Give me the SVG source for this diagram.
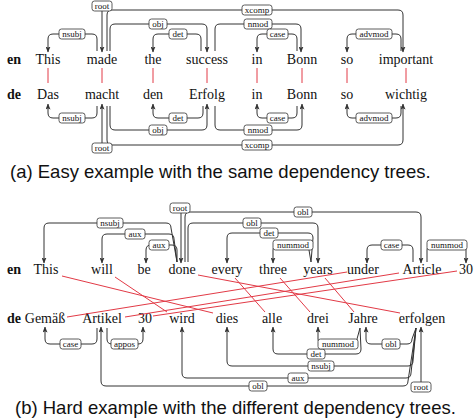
<svg xmlns="http://www.w3.org/2000/svg" width="474" height="420" viewBox="0 0 474 420">
<style>
.w{font-family:"Liberation Serif","DejaVu Serif",serif;font-size:14px;fill:#111;text-anchor:middle}
.lang{font-family:"Liberation Serif","DejaVu Serif",serif;font-size:14px;font-weight:bold;fill:#111;text-anchor:middle}
.cap{font-family:"Liberation Sans",Arial,sans-serif;font-size:18.5px;fill:#111}
.e{fill:none;stroke:#333;stroke-width:1;marker-end:url(#ah)}
.al{stroke:#e23a46;stroke-width:1;fill:none}
.lb rect{fill:#fff;stroke:#333;stroke-width:0.8}
.lb text{font-family:"Liberation Serif","DejaVu Serif",serif;font-size:9px;fill:#111;text-anchor:middle}
</style>
<defs>
<marker id="ah" markerUnits="userSpaceOnUse" markerWidth="6" markerHeight="5" refX="5.5" refY="2.5" orient="auto">
<path d="M0,0 L6,2.5 L0,5 L1.2,2.5 z" fill="#333"/>
</marker>
</defs>
<rect width="474" height="420" fill="#fff"/>

<!-- ===== Part (a) ===== -->
<g id="a-lang"><text class="lang" x="14" y="64">en</text><text class="lang" x="14" y="99">de</text></g>
<g id="a-en-This"><text class="w" x="48" y="64">This</text></g>
<g id="a-en-made"><text class="w" x="102" y="64">made</text></g>
<g id="a-en-the"><text class="w" x="153" y="64">the</text></g>
<g id="a-en-success"><text class="w" x="207" y="64">success</text></g>
<g id="a-en-in"><text class="w" x="257" y="64">in</text></g>
<g id="a-en-Bonn"><text class="w" x="302" y="64">Bonn</text></g>
<g id="a-en-so"><text class="w" x="347" y="64">so</text></g>
<g id="a-en-important"><text class="w" x="406" y="64">important</text></g>
<g id="a-de-Das"><text class="w" x="48" y="99">Das</text></g>
<g id="a-de-macht"><text class="w" x="102" y="99">macht</text></g>
<g id="a-de-den"><text class="w" x="153" y="99">den</text></g>
<g id="a-de-Erfolg"><text class="w" x="207" y="99">Erfolg</text></g>
<g id="a-de-in"><text class="w" x="257" y="99">in</text></g>
<g id="a-de-Bonn"><text class="w" x="302" y="99">Bonn</text></g>
<g id="a-de-so"><text class="w" x="347" y="99">so</text></g>
<g id="a-de-wichtig"><text class="w" x="406" y="99">wichtig</text></g>

<g id="a-connectors">
<g id="a-align">
<path class="al" d="M48,68V83M102,68V83M153,68V83M207,68V83M257,68V83M302,68V83M347,68V83M406,68V83"/>
</g>
<g id="a-top-edges">
<path class="e" d="M102,11V52"/>
<path class="e" d="M107,51V15Q107,10 112,10H398Q403,10 403,15V52"/>
<path class="e" d="M110,51V29Q110,24 115,24H202Q207,24 207,29V52"/>
<path class="e" d="M215,51V29Q215,24 220,24H296Q301,24 301,29V52"/>
<path class="e" d="M201,51V39Q201,34 196,34H158Q153,34 153,39V52"/>
<path class="e" d="M97,51V39Q97,34 92,34H53Q48,34 48,39V52"/>
<path class="e" d="M297,51V39Q297,34 292,34H262Q257,34 257,39V52"/>
<path class="e" d="M401,51V39Q401,34 396,34H352Q347,34 347,39V52"/>
</g>
<g id="a-bottom-edges">
<path class="e" d="M97,106V113Q97,118 92,118H53Q48,118 48,113V104"/>
<path class="e" d="M203,106V113Q203,118 198,118H158Q153,118 153,113V104"/>
<path class="e" d="M110,106V125Q110,130 115,130H202Q207,130 207,125V104"/>
<path class="e" d="M102,143V104"/>
<path class="e" d="M107,106V140Q107,145 112,145H398Q403,145 403,140V104"/>
<path class="e" d="M215,106V125Q215,130 220,130H297Q302,130 302,125V104"/>
<path class="e" d="M297,106V113Q297,118 292,118H262Q257,118 257,113V104"/>
<path class="e" d="M401,106V113Q401,118 396,118H352Q347,118 347,113V104"/>
</g>
<g id="a-labels" class="lb">
<rect x="92" y="1" width="20" height="10" rx="2.5"/><text x="102" y="9">root</text>
<rect x="242" y="5" width="30" height="10" rx="2.5"/><text x="257" y="13">xcomp</text>
<rect x="149" y="19" width="18" height="10" rx="2.5"/><text x="158" y="27">obj</text>
<rect x="244" y="19" width="28" height="10" rx="2.5"/><text x="258" y="27">nmod</text>
<rect x="169" y="29" width="18" height="10" rx="2.5"/><text x="178" y="37">det</text>
<rect x="59" y="29" width="26" height="10" rx="2.5"/><text x="72" y="37">nsubj</text>
<rect x="267" y="29" width="21" height="10" rx="2.5"/><text x="277.5" y="37">case</text>
<rect x="356" y="29" width="36" height="10" rx="2.5"/><text x="374" y="37">advmod</text>

<rect x="59" y="113" width="26" height="10" rx="2.5"/><text x="72" y="121">nsubj</text>
<rect x="169" y="113" width="18" height="10" rx="2.5"/><text x="178" y="121">det</text>
<rect x="149" y="125" width="18" height="10" rx="2.5"/><text x="158" y="133">obj</text>
<rect x="92" y="143" width="20" height="10" rx="2.5"/><text x="102" y="151">root</text>
<rect x="242" y="140" width="30" height="10" rx="2.5"/><text x="257" y="148">xcomp</text>
<rect x="244" y="125" width="28" height="10" rx="2.5"/><text x="258" y="133">nmod</text>
<rect x="267" y="113" width="21" height="10" rx="2.5"/><text x="277.5" y="121">case</text>
<rect x="356" y="113" width="36" height="10" rx="2.5"/><text x="374" y="121">advmod</text>
</g>
</g>

<text class="cap" x="10" y="178">(a) Easy example with the same dependency trees.</text>

<!-- ===== Part (b) ===== -->
<g id="b-lang"><text class="lang" x="14" y="274">en</text><text class="lang" x="14" y="323">de</text></g>
<g id="b-en-This"><text class="w" x="46" y="274">This</text></g>
<g id="b-en-will"><text class="w" x="102" y="274">will</text></g>
<g id="b-en-be"><text class="w" x="144" y="274">be</text></g>
<g id="b-en-done"><text class="w" x="182" y="274">done</text></g>
<g id="b-en-every"><text class="w" x="227" y="274">every</text></g>
<g id="b-en-three"><text class="w" x="273" y="274">three</text></g>
<g id="b-en-years"><text class="w" x="318" y="274">years</text></g>
<g id="b-en-under"><text class="w" x="363" y="274">under</text></g>
<g id="b-en-Article"><text class="w" x="422" y="274">Article</text></g>
<g id="b-en-30"><text class="w" x="466" y="274">30</text></g>
<g id="b-de-Gemass"><text class="w" x="45" y="323">Gemäß</text></g>
<g id="b-de-Artikel"><text class="w" x="102" y="323">Artikel</text></g>
<g id="b-de-30"><text class="w" x="145" y="323">30</text></g>
<g id="b-de-wird"><text class="w" x="182" y="323">wird</text></g>
<g id="b-de-dies"><text class="w" x="227" y="323">dies</text></g>
<g id="b-de-alle"><text class="w" x="272" y="323">alle</text></g>
<g id="b-de-drei"><text class="w" x="318" y="323">drei</text></g>
<g id="b-de-Jahre"><text class="w" x="363" y="323">Jahre</text></g>
<g id="b-de-erfolgen"><text class="w" x="422" y="323">erfolgen</text></g>

<g id="b-connectors">
<g id="b-align">
<path class="al" d="M62,276L213,313"/>
<path class="al" d="M115,277L167,312"/>
<path class="al" d="M198,275L400,313"/>
<path class="al" d="M235,278L265,312"/>
<path class="al" d="M280,278L310,312"/>
<path class="al" d="M325,278L354,312"/>
<path class="al" d="M347,272L67,317"/>
<path class="al" d="M399,273L125,317"/>
<path class="al" d="M457,271L153,316"/>
</g>
<g id="b-top-edges">
<path class="e" d="M177,262L171,228Q171,223 166,223H49Q44,223 44,228V263"/>
<path class="e" d="M177,262L174,239Q174,234 169,234H107Q102,234 102,239V263"/>
<path class="e" d="M177,262V250Q177,245 172,245H151Q146,245 146,250V263"/>
<path class="e" d="M181,213V263"/>
<path class="e" d="M185,262V217Q185,212 190,212H416Q421,212 421,217V263"/>
<path class="e" d="M188,262V228Q188,223 193,223H313Q318,223 318,228V263"/>
<path class="e" d="M311,262L313,238Q313,233 308,233H232Q227,233 227,238V263"/>
<path class="e" d="M311,262L309,250Q309,245 304,245H278Q273,245 273,250V263"/>
<path class="e" d="M413,262V250Q413,245 408,245H372Q367,245 367,250V263"/>
<path class="e" d="M427,262V250Q427,245 432,245H461Q466,245 466,250V263"/>
</g>
<g id="b-bottom-edges">
<path class="e" d="M97,328V339Q97,344 92,344H50Q45,344 45,339V327"/>
<path class="e" d="M107,328V339Q107,344 112,344H138Q143,344 143,339V327"/>
<path class="e" d="M416,328L408,381Q408,386 403,386H106Q101,386 101,381V327"/>
<path class="e" d="M416,328L411,373Q411,378 406,378H187Q182,378 182,373V327"/>
<path class="e" d="M416,328L413,361Q413,366 408,366H232Q227,366 227,361V327"/>
<path class="e" d="M416,328L412,339Q412,344 407,344H371Q366,344 366,339V327"/>
<path class="e" d="M360,328L361,349Q361,354 356,354H278Q273,354 273,349V327"/>
<path class="e" d="M360,328L357,339Q357,344 352,344H323Q318,344 318,339V327"/>
<path class="e" d="M421,382V327"/>
</g>
<g id="b-labels" class="lb">
<rect x="97" y="218" width="26" height="10" rx="2.5"/><text x="110" y="226">nsubj</text>
<rect x="125" y="229" width="20" height="10" rx="2.5"/><text x="135" y="237">aux</text>
<rect x="149" y="240" width="20" height="10" rx="2.5"/><text x="159" y="248">aux</text>
<rect x="170" y="203" width="20" height="10" rx="2.5"/><text x="180" y="211">root</text>
<rect x="294" y="207" width="18" height="10" rx="2.5"/><text x="303" y="215">obl</text>
<rect x="243" y="218" width="18" height="10" rx="2.5"/><text x="252" y="226">obl</text>
<rect x="260" y="228" width="18" height="10" rx="2.5"/><text x="269" y="236">det</text>
<rect x="273" y="240" width="40" height="10" rx="2.5"/><text x="293" y="248">nummod</text>
<rect x="381" y="240" width="21" height="10" rx="2.5"/><text x="391.5" y="248">case</text>
<rect x="427" y="240" width="40" height="10" rx="2.5"/><text x="447" y="248">nummod</text>

<rect x="60" y="339" width="21" height="10" rx="2.5"/><text x="70.5" y="347">case</text>
<rect x="111" y="339" width="27" height="10" rx="2.5"/><text x="124.5" y="347">appos</text>
<rect x="249" y="381" width="18" height="10" rx="2.5"/><text x="258" y="389">obl</text>
<rect x="288" y="373" width="20" height="10" rx="2.5"/><text x="298" y="381">aux</text>
<rect x="308" y="361" width="26" height="10" rx="2.5"/><text x="321" y="369">nsubj</text>
<rect x="307" y="349" width="18" height="10" rx="2.5"/><text x="316" y="357">det</text>
<rect x="318" y="339" width="40" height="10" rx="2.5"/><text x="338" y="347">nummod</text>
<rect x="382" y="339" width="18" height="10" rx="2.5"/><text x="391" y="347">obl</text>
<rect x="411" y="382" width="20" height="10" rx="2.5"/><text x="421" y="390">root</text>
</g>
</g>

<text class="cap" x="15" y="414">(b) Hard example with the different dependency trees.</text>
</svg>
